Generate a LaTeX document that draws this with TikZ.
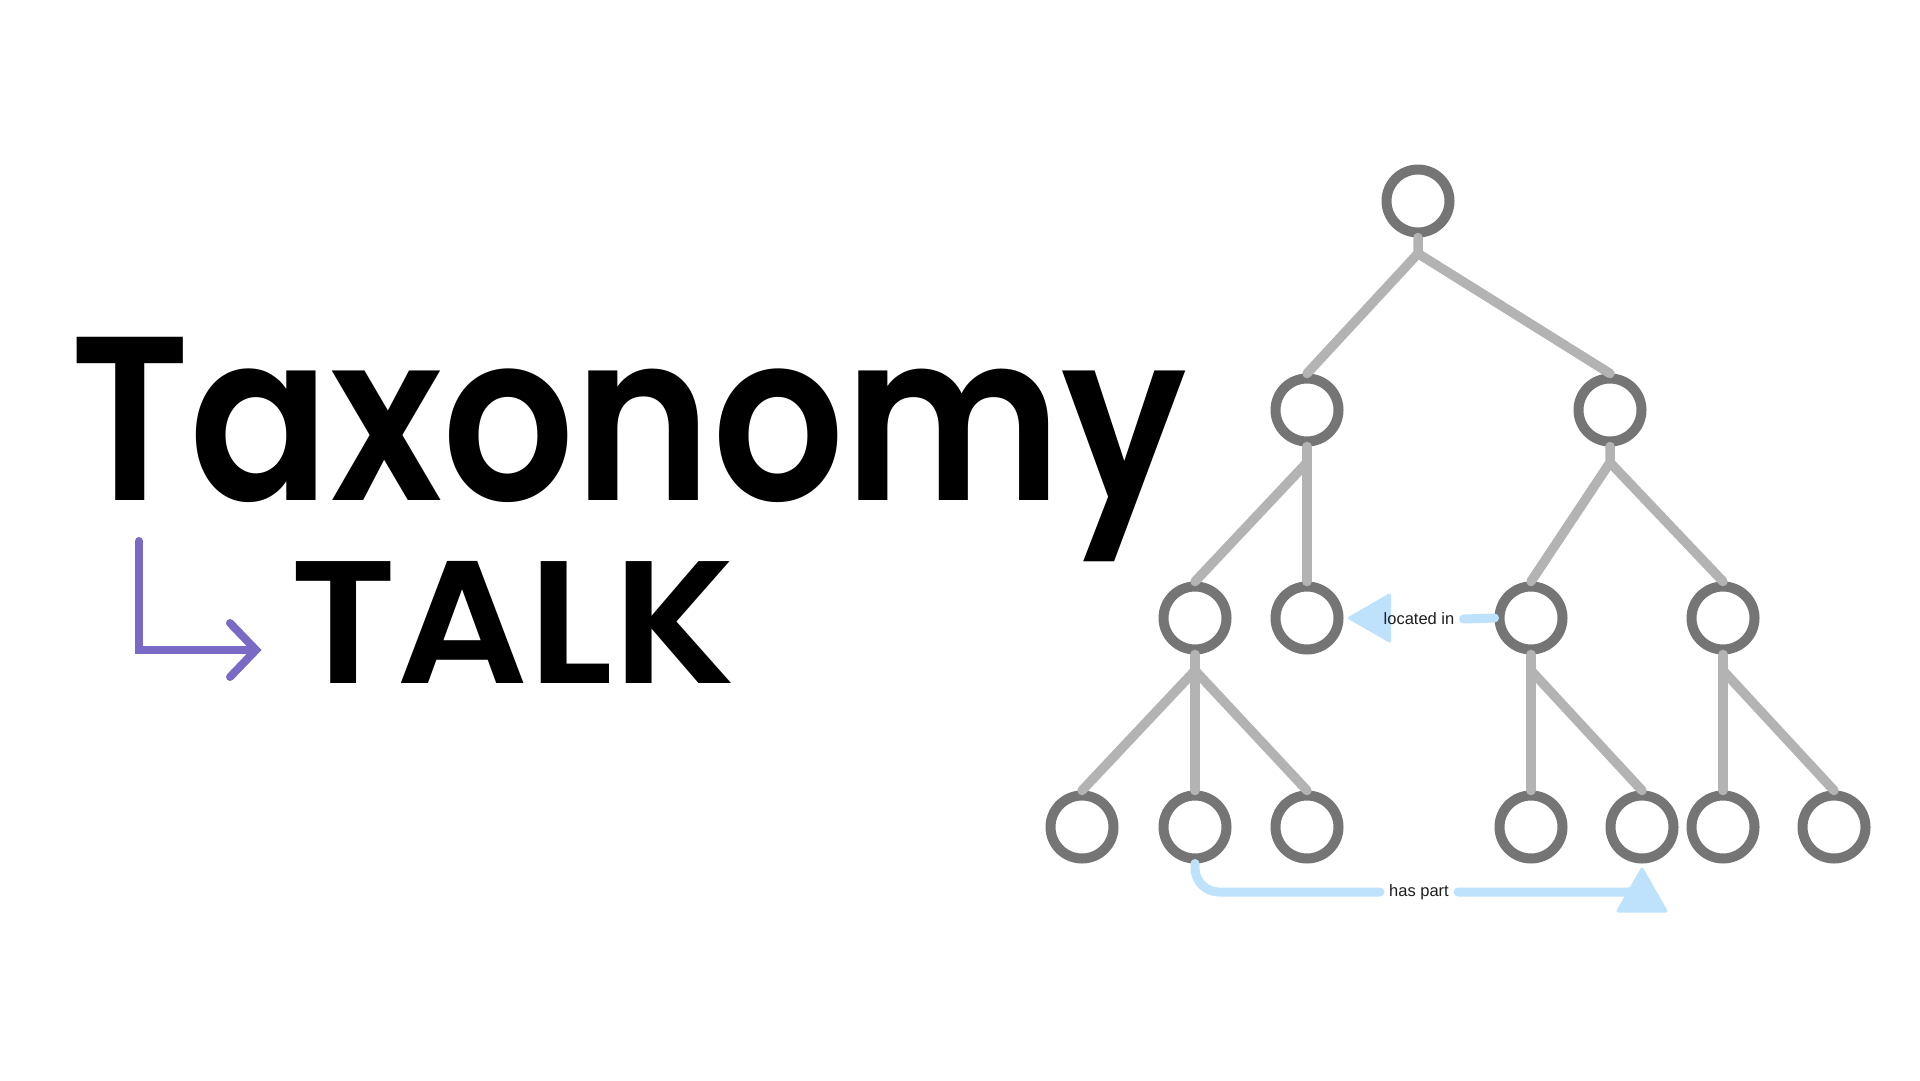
\documentclass[tikz,border=0pt]{standalone}
\usepackage{graphicx}
\usepackage{fontspec}
\setmainfont{Liberation Sans}
\newfontfamily\handfont{Poppins SemiBold}
\usetikzlibrary{arrows.meta,calc}
\definecolor{ring}{RGB}{117,117,117}
\definecolor{edgec}{RGB}{179,179,179}
\definecolor{lblue}{RGB}{190,226,252}
\definecolor{purp}{RGB}{122,106,197}
\definecolor{ink}{RGB}{30,30,30}
\begin{document}
\begin{tikzpicture}[x=1pt,y=-1pt,
  tnode/.style={circle,draw=ring,line width=10pt,minimum size=63pt,inner sep=0pt,fill=white},
  tedge/.style={draw=edgec,line width=9.5pt,line cap=round,line join=round},
  rel/.style={draw=lblue,line width=9pt,line cap=round},
  rellabel/.style={font=\fontsize{16.5}{18}\selectfont,text=ink,inner xsep=9pt,inner ysep=2pt},
  head/.style={fill=lblue,draw=lblue,line width=3pt,line join=round},
  purparrow/.style={draw=purp,line width=8pt,line cap=round},
]
\useasboundingbox[fill=white] (0,0) rectangle (1920,1080);

% title
\node[anchor=base west, inner sep=0pt] (title) at (70,500)
  {\resizebox{1115pt}{163pt}{\handfont Taxonomy}};
\node[anchor=base west, inner sep=0pt] (talk) at (290,683)
  {\resizebox{445pt}{122pt}{\handfont TALK}};

% purple bent arrow
\draw[purparrow] (139,541) -- (139,650) -- (252,650);
\draw[purparrow] (230,623) -- (256,650) -- (230,677);

% tree nodes
\node[tnode] (r) at (1418,201) {};
\node[tnode] (a) at (1307,410) {};
\node[tnode] (b) at (1610,410) {};
\node[tnode] (aa) at (1195,618) {};
\node[tnode] (ab) at (1307,618) {};
\node[tnode] (ba) at (1531,618) {};
\node[tnode] (bb) at (1723,618) {};
\node[tnode] (aaa) at (1082,827) {};
\node[tnode] (aab) at (1195,827) {};
\node[tnode] (aac) at (1307,827) {};
\node[tnode] (baa) at (1531,827) {};
\node[tnode] (bab) at (1642,827) {};
\node[tnode] (bba) at (1723,827) {};
\node[tnode] (bbb) at (1834,827) {};

% junctions
\coordinate (jr) at ($(r.south)+(0,16)$);
\coordinate (ja) at ($(a.south)+(0,16)$);
\coordinate (jb) at ($(b.south)+(0,16)$);
\coordinate (jaa) at ($(aa.south)+(0,16)$);
\coordinate (jba) at ($(ba.south)+(0,16)$);
\coordinate (jbb) at ($(bb.south)+(0,16)$);

% tree edges
\draw[tedge] (r.south) -- (jr) -- (a.north);
\draw[tedge] (jr) -- (b.north);
\draw[tedge] (a.south) -- (ab.north);
\draw[tedge] (ja) -- (aa.north);
\draw[tedge] (b.south) -- (jb) -- (ba.north);
\draw[tedge] (jb) -- (bb.north);
\draw[tedge] (aa.south) -- (aab.north);
\draw[tedge] (jaa) -- (aaa.north);
\draw[tedge] (jaa) -- (aac.north);
\draw[tedge] (ba.south) -- (baa.north);
\draw[tedge] (jba) -- (bab.north);
\draw[tedge] (bb.south) -- (bba.north);
\draw[tedge] (jbb) -- (bbb.north);

% located in
\filldraw[head] ($(ab.east)+(6,0)$) -- ++(40,-23) -- ++(0,46) -- cycle;
\node[rellabel] (li) at (1419,619) {located in};
\draw[rel] (ba.west) -- (li.east);

% has part
\node[rellabel] (hp) at (1419,892) {has part};
\draw[rel, rounded corners=24pt] (aab.south) |- (hp.west);
\draw[rel, rounded corners=14pt] (hp.east) -| ($(bab.south)+(0,14)$);
\filldraw[head] ($(bab.south)+(0,5.5)$) -- ++(-24,42) -- ++(48,0) -- cycle;
\end{tikzpicture}
\end{document}
